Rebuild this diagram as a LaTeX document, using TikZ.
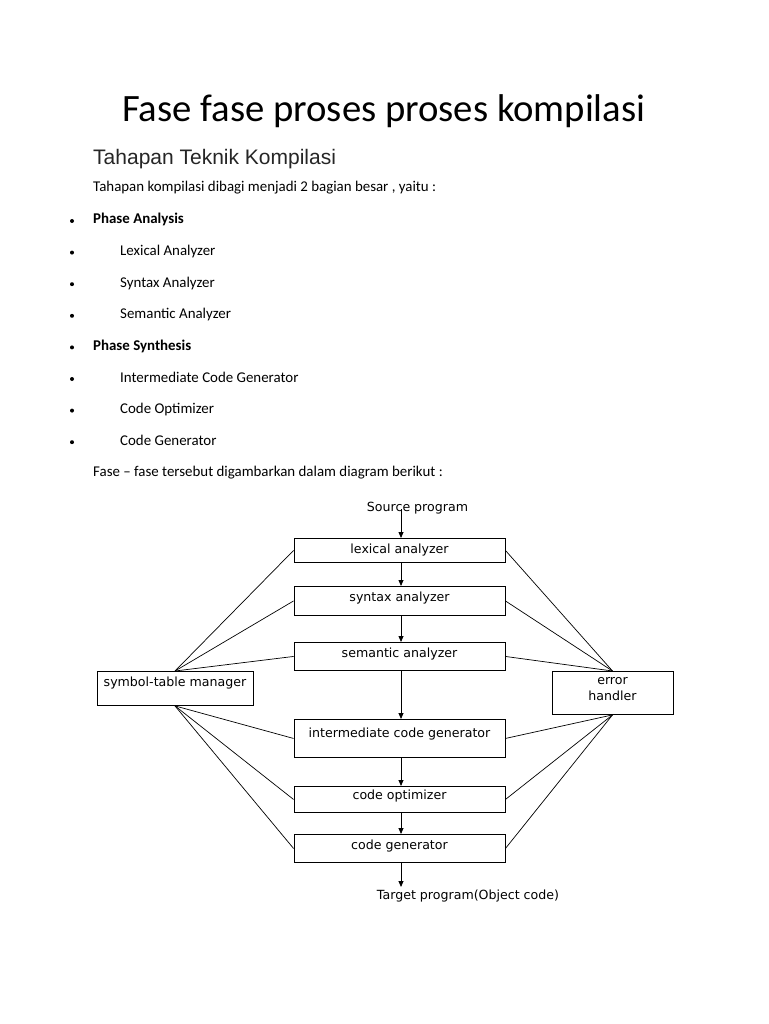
\documentclass[tikz,border=0pt]{standalone}
\usepackage{fontspec}
\setmainfont{Carlito}
\newfontfamily\arialf{Liberation Sans}
\newfontfamily\diagf{DejaVu Sans}
\usetikzlibrary{arrows.meta}
\begin{document}
\begin{tikzpicture}[x=1pt,y=-1pt,
  txt/.style={anchor=base west, inner sep=0pt, font=\fontsize{14.9}{17}\selectfont},
  boldtxt/.style={anchor=base west, inner sep=0pt, font=\fontsize{14.9}{17}\selectfont\bfseries},
  dot/.style={circle, fill=black, inner sep=0pt, minimum size=4pt},
  box/.style={draw, line width=0.9pt, anchor=north, inner xsep=0pt, inner ysep=0pt,
              font=\fontsize{12.6}{16}\selectfont\diagf},
  dlabel/.style={anchor=base, inner sep=0pt, font=\fontsize{12.6}{16}\selectfont\diagf},
  link/.style={line width=0.7pt},
  arr/.style={line width=0.8pt, -{Triangle[length=6pt,width=5pt]}}
]
\useasboundingbox (0,0) rectangle (768,1024);
\fill[white] (0,0) rectangle (768,1024);

% headings
\node[anchor=base west, inner sep=0pt, font=\fontsize{38.7}{44}\selectfont] (title) at (122,122) {Fase fase proses proses kompilasi};
\node[anchor=base west, inner sep=0pt, font=\fontsize{21}{25}\selectfont\arialf, text=black!85] (sub) at (93,165) {Tahapan Teknik Kompilasi};
\node[txt] (intro) at (93,192) {Tahapan kompilasi dibagi menjadi 2 bagian besar , yaitu :};

% list
\node[dot] (b1) at (72,221) {};
\node[boldtxt] (i1) at (93,224) {Phase Analysis};
\node[dot] (b2) at (72,252.6) {};
\node[txt] (i2) at (120,255.6) {Lexical Analyzer};
\node[dot] (b3) at (72,284.2) {};
\node[txt] (i3) at (120,287.2) {Syntax Analyzer};
\node[dot] (b4) at (72,315.8) {};
\node[txt] (i4) at (120,318.8) {Semantic Analyzer};
\node[dot] (b5) at (72,347.4) {};
\node[boldtxt] (i5) at (93,350.4) {Phase Synthesis};
\node[dot] (b6) at (72,379) {};
\node[txt] (i6) at (120,382) {Intermediate Code Generator};
\node[dot] (b7) at (72,410.6) {};
\node[txt] (i7) at (120,413.6) {Code Optimizer};
\node[dot] (b8) at (72,442.2) {};
\node[txt] (i8) at (120,445.2) {Code Generator};
\node[txt] (outro) at (93,476.8) {Fase -- fase tersebut digambarkan dalam diagram berikut :};

% diagram
\coordinate (spine) at (401,0);
\node[dlabel] (src) at (417.5,511.5) {Source program};
\coordinate (srcS) at (401,509);

\node[box, minimum width=211pt, text height=15pt, text depth=9pt] (lex) at (399.5,538) {lexical analyzer};
\node[box, minimum width=211pt, text height=15.5pt, text depth=13.5pt] (syn) at (399.5,586) {syntax analyzer};
\node[box, minimum width=211pt, text height=15pt, text depth=13pt] (sem) at (399.5,642) {semantic analyzer};
\node[box, minimum width=211pt, text height=18pt, text depth=20pt] (int) at (399.5,719) {intermediate code generator};
\node[box, minimum width=211pt, text height=13pt, text depth=13pt] (opt) at (399.5,786) {code optimizer};
\node[box, minimum width=211pt, text height=15pt, text depth=13pt] (gen) at (399.5,834) {code generator};

\node[box, minimum width=156pt, text height=15pt, text depth=19pt] (sym) at (175,671) {symbol-table manager};
\node[box, minimum width=121pt, text height=13pt, text depth=30pt] (err) at (612.5,671)
  {\begin{tabular}[t]{@{}c@{}}error\\handler\end{tabular}};

\node[dlabel] (tgt) at (468,899.5) {Target program(Object code)};
\coordinate (tgtN) at (401,887);

% flow arrows
\draw[arr] (srcS) -- (lex.north -| spine);
\draw[arr] (lex.south -| spine) -- (syn.north -| spine);
\draw[arr] (syn.south -| spine) -- (sem.north -| spine);
\draw[arr] (sem.south -| spine) -- (int.north -| spine);
\draw[arr] (int.south -| spine) -- (opt.north -| spine);
\draw[arr] (opt.south -| spine) -- (gen.north -| spine);
\draw[arr] (gen.south -| spine) -- (tgtN);

% links to symbol-table manager
\draw[link] (sym.north) -- (lex.west);
\draw[link] (sym.north) -- (syn.west);
\draw[link] (sym.north) -- (sem.west);
\draw[link] (sym.south) -- (int.west);
\draw[link] (sym.south) -- (opt.west);
\draw[link] (sym.south) -- (gen.west);

% links to error handler
\draw[link] (err.north) -- (lex.east);
\draw[link] (err.north) -- (syn.east);
\draw[link] (err.north) -- (sem.east);
\draw[link] (err.south) -- (int.east);
\draw[link] (err.south) -- (opt.east);
\draw[link] (err.south) -- (gen.east);
\end{tikzpicture}
\end{document}
